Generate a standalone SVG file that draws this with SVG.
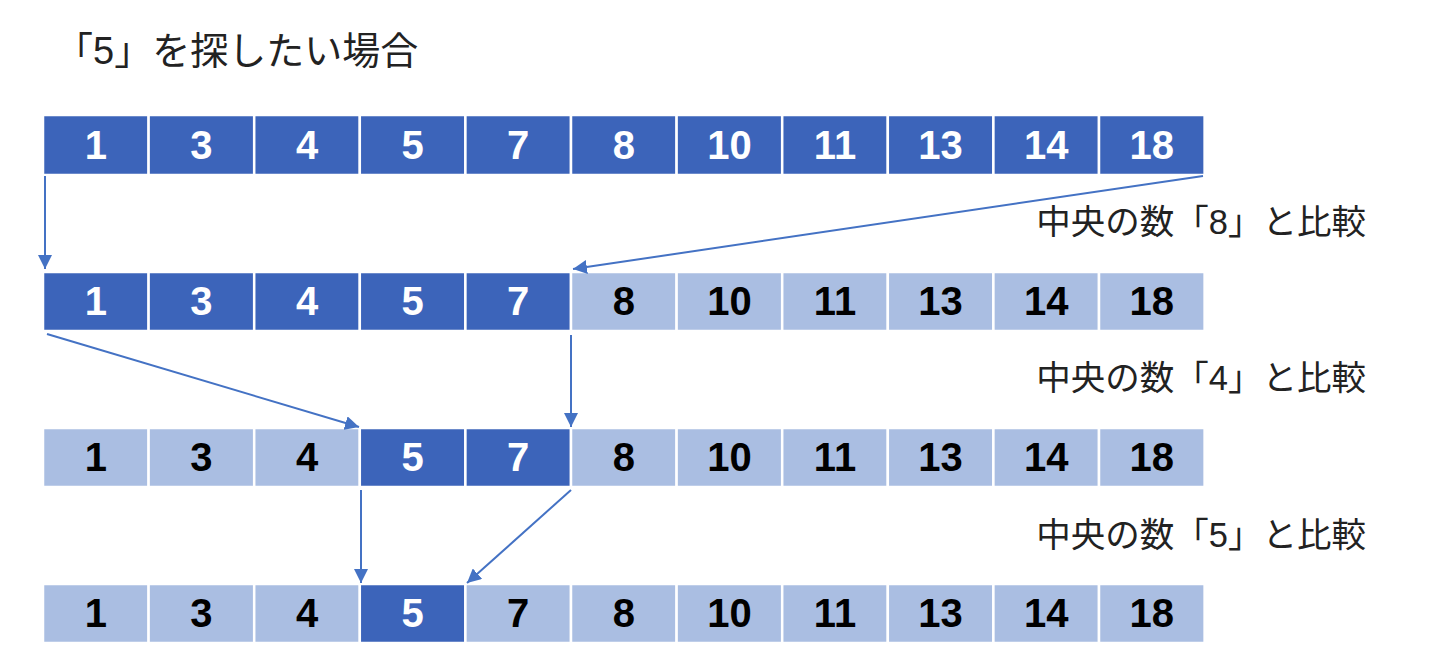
<svg xmlns="http://www.w3.org/2000/svg" width="1442" height="672" viewBox="0 0 1442 672">
<defs>
<style>
.d{fill:#3C64BA;stroke:#fff;stroke-width:2.5}
.l{fill:#AABEE2;stroke:#fff;stroke-width:2.5}
.tw{font-family:"Liberation Sans",Arial,sans-serif;font-weight:bold;font-size:40px;fill:#fff;text-anchor:middle}
.tb{font-family:"Liberation Sans",Arial,sans-serif;font-weight:bold;font-size:40px;fill:#000;text-anchor:middle}
.jp{font-family:"Liberation Sans","Noto Sans CJK JP",sans-serif;font-size:34.5px;fill:#222}
.c{stroke:#4472C4;stroke-width:2;fill:none;marker-end:url(#ah)}
</style>
<marker id="ah" viewBox="0 0 10 10" refX="10" refY="5" markerWidth="7" markerHeight="7" orient="auto" markerUnits="strokeWidth">
<path d="M0,0 L10,5 L0,10 z" fill="#4472C4"/>
</marker>
</defs>
<rect width="1442" height="672" fill="#fff"/>
<g id="title"><text class="jp" x="55" y="64" style="font-size:38px">「5」を探したい場合</text></g>

<g id="row1">
<rect class="d" x="43" y="115" width="105.6" height="60"/><text class="tw" x="95.8" y="159">1</text>
<rect class="d" x="148.6" y="115" width="105.6" height="60"/><text class="tw" x="201.4" y="159">3</text>
<rect class="d" x="254.2" y="115" width="105.6" height="60"/><text class="tw" x="307" y="159">4</text>
<rect class="d" x="359.8" y="115" width="105.6" height="60"/><text class="tw" x="412.6" y="159">5</text>
<rect class="d" x="465.4" y="115" width="105.6" height="60"/><text class="tw" x="518.2" y="159">7</text>
<rect class="d" x="571" y="115" width="105.6" height="60"/><text class="tw" x="623.8" y="159">8</text>
<rect class="d" x="676.6" y="115" width="105.6" height="60"/><text class="tw" x="729.4" y="159">10</text>
<rect class="d" x="782.2" y="115" width="105.6" height="60"/><text class="tw" x="835" y="159">11</text>
<rect class="d" x="887.8" y="115" width="105.6" height="60"/><text class="tw" x="940.6" y="159">13</text>
<rect class="d" x="993.4" y="115" width="105.6" height="60"/><text class="tw" x="1046.2" y="159">14</text>
<rect class="d" x="1099" y="115" width="105.6" height="60"/><text class="tw" x="1151.8" y="159">18</text>
</g>

<g id="row2">
<rect class="d" x="43" y="272" width="105.6" height="59"/><text class="tw" x="95.8" y="315">1</text>
<rect class="d" x="148.6" y="272" width="105.6" height="59"/><text class="tw" x="201.4" y="315">3</text>
<rect class="d" x="254.2" y="272" width="105.6" height="59"/><text class="tw" x="307" y="315">4</text>
<rect class="d" x="359.8" y="272" width="105.6" height="59"/><text class="tw" x="412.6" y="315">5</text>
<rect class="d" x="465.4" y="272" width="105.6" height="59"/><text class="tw" x="518.2" y="315">7</text>
<rect class="l" x="571" y="272" width="105.6" height="59"/><text class="tb" x="623.8" y="315">8</text>
<rect class="l" x="676.6" y="272" width="105.6" height="59"/><text class="tb" x="729.4" y="315">10</text>
<rect class="l" x="782.2" y="272" width="105.6" height="59"/><text class="tb" x="835" y="315">11</text>
<rect class="l" x="887.8" y="272" width="105.6" height="59"/><text class="tb" x="940.6" y="315">13</text>
<rect class="l" x="993.4" y="272" width="105.6" height="59"/><text class="tb" x="1046.2" y="315">14</text>
<rect class="l" x="1099" y="272" width="105.6" height="59"/><text class="tb" x="1151.8" y="315">18</text>
</g>

<g id="row3">
<rect class="l" x="43" y="428" width="105.6" height="59"/><text class="tb" x="95.8" y="471">1</text>
<rect class="l" x="148.6" y="428" width="105.6" height="59"/><text class="tb" x="201.4" y="471">3</text>
<rect class="l" x="254.2" y="428" width="105.6" height="59"/><text class="tb" x="307" y="471">4</text>
<rect class="d" x="359.8" y="428" width="105.6" height="59"/><text class="tw" x="412.6" y="471">5</text>
<rect class="d" x="465.4" y="428" width="105.6" height="59"/><text class="tw" x="518.2" y="471">7</text>
<rect class="l" x="571" y="428" width="105.6" height="59"/><text class="tb" x="623.8" y="471">8</text>
<rect class="l" x="676.6" y="428" width="105.6" height="59"/><text class="tb" x="729.4" y="471">10</text>
<rect class="l" x="782.2" y="428" width="105.6" height="59"/><text class="tb" x="835" y="471">11</text>
<rect class="l" x="887.8" y="428" width="105.6" height="59"/><text class="tb" x="940.6" y="471">13</text>
<rect class="l" x="993.4" y="428" width="105.6" height="59"/><text class="tb" x="1046.2" y="471">14</text>
<rect class="l" x="1099" y="428" width="105.6" height="59"/><text class="tb" x="1151.8" y="471">18</text>
</g>

<g id="row4">
<rect class="l" x="43" y="584" width="105.6" height="59"/><text class="tb" x="95.8" y="627">1</text>
<rect class="l" x="148.6" y="584" width="105.6" height="59"/><text class="tb" x="201.4" y="627">3</text>
<rect class="l" x="254.2" y="584" width="105.6" height="59"/><text class="tb" x="307" y="627">4</text>
<rect class="d" x="359.8" y="584" width="105.6" height="59"/><text class="tw" x="412.6" y="627">5</text>
<rect class="l" x="465.4" y="584" width="105.6" height="59"/><text class="tb" x="518.2" y="627">7</text>
<rect class="l" x="571" y="584" width="105.6" height="59"/><text class="tb" x="623.8" y="627">8</text>
<rect class="l" x="676.6" y="584" width="105.6" height="59"/><text class="tb" x="729.4" y="627">10</text>
<rect class="l" x="782.2" y="584" width="105.6" height="59"/><text class="tb" x="835" y="627">11</text>
<rect class="l" x="887.8" y="584" width="105.6" height="59"/><text class="tb" x="940.6" y="627">13</text>
<rect class="l" x="993.4" y="584" width="105.6" height="59"/><text class="tb" x="1046.2" y="627">14</text>
<rect class="l" x="1099" y="584" width="105.6" height="59"/><text class="tb" x="1151.8" y="627">18</text>
</g>

<g id="labels">
<text class="jp" x="1366" y="234" text-anchor="end">中央の数「8」と比較</text>
<text class="jp" x="1366" y="390" text-anchor="end">中央の数「4」と比較</text>
<text class="jp" x="1366" y="547" text-anchor="end">中央の数「5」と比較</text>
</g>

<g id="connectors">
<line class="c" x1="45" y1="176" x2="45" y2="269"/>
<line class="c" x1="1203" y1="176" x2="573" y2="269"/>
<line class="c" x1="47" y1="334" x2="359" y2="427"/>
<line class="c" x1="571" y1="335" x2="571" y2="427"/>
<line class="c" x1="361" y1="490" x2="361" y2="583"/>
<line class="c" x1="571" y1="490" x2="467" y2="583"/>
</g>
</svg>
